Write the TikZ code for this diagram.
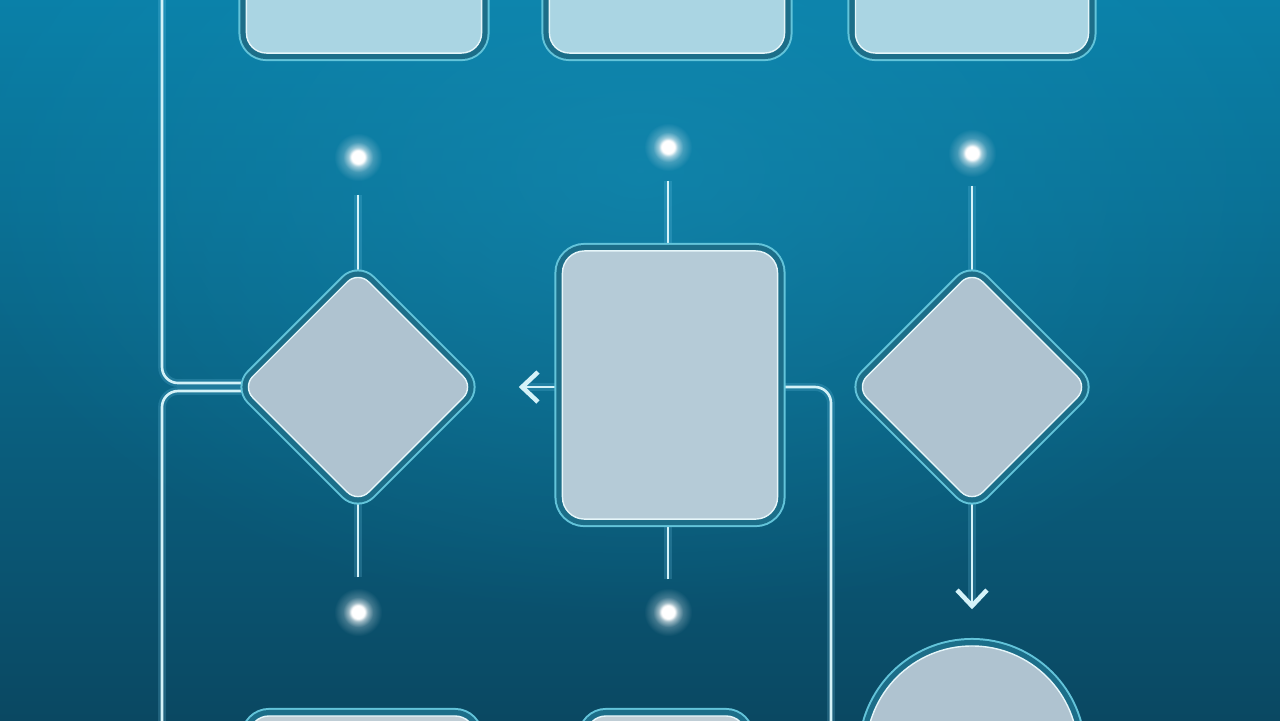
\documentclass[tikz,border=0pt]{standalone}
\usetikzlibrary{shapes.geometric,arrows.meta,fadings}

\definecolor{bgtop}{HTML}{0A80A8}
\definecolor{bgbot}{HTML}{0A4862}
\definecolor{bgspot}{HTML}{1590B8}
\definecolor{wirecol}{HTML}{D4F2F8}
\definecolor{ringcyan}{HTML}{63C4DA}
\definecolor{ringteal}{HTML}{1C6E89}
\definecolor{glassedge}{HTML}{E6F6FA}
\definecolor{glasstop}{HTML}{AAD5E3}
\definecolor{glassmid}{HTML}{B5CBD7}
\definecolor{glassdiam}{HTML}{AFC3D0}
\definecolor{glasslow}{HTML}{BFCDD5}

\pgfdeclareradialshading{glowshade}{\pgfpointorigin}{color(0bp)=(pgftransparent!0); color(6.5bp)=(pgftransparent!0); color(9.5bp)=(pgftransparent!40); color(15bp)=(pgftransparent!78); color(24bp)=(pgftransparent!100); color(50bp)=(pgftransparent!100)}
\pgfdeclarefading{glowfade}{\pgfuseshading{glowshade}}
\tikzfading[name=softspot, inner color=transparent!45, outer color=transparent!100]

\pgfdeclarelayer{back}
\pgfdeclarelayer{wires}
\pgfsetlayers{back,wires,main}

\tikzstyle{glass}=[draw=glassedge,line width=0.4pt,inner sep=0pt,preaction={draw=ringcyan,line width=0.16cm},preaction={draw=ringteal,line width=0.12cm}]
\tikzstyle{panel}=[glass,rectangle,rounded corners=0.2cm]
\tikzstyle{decision}=[glass,diamond,aspect=1,rounded corners=0.15cm,minimum size=2.32cm,fill=glassdiam]
\tikzstyle{terminal}=[glass,circle,minimum size=2.12cm,fill=glassdiam]
\tikzstyle{pin}=[circle,inner sep=0pt,minimum size=0.5cm,fill=white,path fading=glowfade]
\tikzstyle{wire}=[draw=wirecol,line width=0.75pt,preaction={draw=cyan!50!white,line width=2.2pt,opacity=0.18}]
\tikzstyle{flow}=[wire,-{Straight Barb[length=4.5pt,width=8.5pt,line width=1.3pt]}]

\begin{document}
\begin{tikzpicture}[x=0.01cm,y=-0.01cm]
\useasboundingbox (0,0) rectangle (1280,720);
\begin{pgfonlayer}{back}
\shade[top color=bgtop,bottom color=bgbot] (0,0) rectangle (1280,720);
\fill[bgspot,path fading=softspot] (640,170) ellipse [x radius=7cm,y radius=4.5cm];
\end{pgfonlayer}
% top row
\node[panel,fill=glasstop,minimum width=2.35cm,minimum height=1.4cm] (boxTL) at (364,-17) {};
\node[panel,fill=glasstop,minimum width=2.35cm,minimum height=1.4cm] (boxTM) at (667,-17) {};
\node[panel,fill=glasstop,minimum width=2.33cm,minimum height=1.4cm] (boxTR) at (972,-17) {};
% middle row
\node[decision] (diamL) at (358,387) {};
\node[panel,fill=glassmid,minimum width=2.15cm,minimum height=2.68cm,rounded corners=0.22cm] (proc) at (670,385) {};
\node[decision] (diamR) at (972,387) {};
% bottom row
\node[terminal] (endR) at (972,752) {};
\node[panel,fill=glasslow,minimum width=2.26cm,minimum height=1.4cm] (boxBL) at (362,786) {};
\node[panel,fill=glasslow,minimum width=1.60cm,minimum height=1.4cm] (boxBM) at (666,786) {};
% connectors and pins
\coordinate (entryL) at (162,-10);
\coordinate (exitL) at (162,730);
\coordinate (exitR) at (831,730);
\begin{pgfonlayer}{wires}
\node[pin] (pinTL) at (358,157) {}
    edge[wire,shorten <=0.12cm] (diamL.north);
\node[pin] (pinTM) at (668,147) {}
    edge[wire,shorten <=0.08cm] (pinTM |- proc.north);
\node[pin] (pinTR) at (972,153) {}
    edge[wire,shorten <=0.07cm] (diamR.north);
\node[pin] (pinBL) at (358,612) {}
    edge[wire,shorten <=0.09cm] (diamL.south);
\node[pin] (pinBM) at (668,612) {}
    edge[wire,shorten <=0.07cm] (pinBM |- proc.south);
\draw[wire,rounded corners=0.16cm] (entryL) |- ([yshift=0.04cm]diamL.west);
\draw[wire,rounded corners=0.16cm] ([yshift=-0.04cm]diamL.west) -| (exitL);
\draw[wire,rounded corners=0.16cm] (proc.east |- diamR.west) -| (exitR);
\draw[flow,shorten >=0.44cm] (proc.west |- diamL.east) -- (diamL.east);
\draw[flow,shorten >=0.36cm] (diamR.south) -- (endR.north);
\end{pgfonlayer}
\end{tikzpicture}
\end{document}
